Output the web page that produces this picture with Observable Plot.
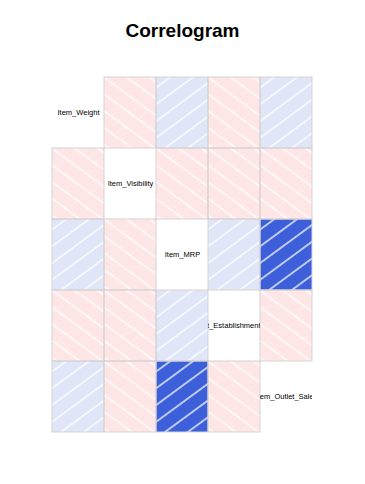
<!DOCTYPE html>
<html><head><meta charset="utf-8">
<script src="https://cdn.jsdelivr.net/npm/d3@7"></script>
<script src="https://cdn.jsdelivr.net/npm/@observablehq/plot@0.6"></script>
<style>
body{margin:0;background:#fff;width:365px;height:484px;overflow:hidden;font-family:"Liberation Sans",Arial,sans-serif;}
#title{height:48px;position:relative;}
#title span{position:absolute;left:0;right:0;top:21px;text-align:center;font-size:19px;line-height:19px;font-weight:bold;color:#000;}
#chart svg{display:block;}
</style></head><body>
<div id="title"><span>Correlogram</span></div>
<div id="chart"></div>
<script>
const variables = ["Item_Weight", "Item_Visibility", "Item_MRP", "Outlet_Establishment_Year", "Item_Outlet_Sales"];
const corrWeight     = [1, -0.014, 0.027, -0.012, 0.014];
const corrVisibility = [-0.014, 1, -0.001, -0.075, -0.129];
const corrMRP        = [0.027, -0.001, 1, 0.005, 0.568];
const corrYear       = [-0.012, -0.075, 0.005, 1, -0.049];
const corrSales      = [0.014, -0.129, 0.568, -0.049, 1];
const colorBreaks = [-0.3, 0, 0.3];
const colorShades = ["#f4a29a", "#ffe6e6", "#e0e6f8", "#3d60da"];

const matrix = [corrWeight, corrVisibility, corrMRP, corrYear, corrSales];
const pairs = [];
variables.forEach((row, i) => variables.forEach((col, j) => pairs.push({row, col, r: matrix[i][j], diag: i === j})));

const svg = Plot.plot({
  width: 365,
  height: 436,
  marginTop: 28,
  marginBottom: 51,
  marginLeft: 50,
  marginRight: 51,
  style: {background: "white", fontFamily: "'Liberation Sans', Arial, sans-serif"},
  facet: {data: pairs, x: "col", y: "row"},
  fx: {domain: variables, padding: 0, axis: null},
  fy: {domain: variables, padding: 0, axis: null},
  color: {type: "threshold", domain: colorBreaks, range: colorShades},
  marks: [
    Plot.rect(pairs, {filter: d => !d.diag, fill: "r"}),
    Plot.rect(pairs, {filter: d => !d.diag && d.r >= 0, fill: "url(#hatchPos)"}),
    Plot.rect(pairs, {filter: d => !d.diag && d.r < 0, fill: "url(#hatchNeg)"}),
    Plot.rect(pairs, {filter: d => !d.diag, fill: "none", stroke: "#d3d3d3", strokeWidth: 1}),
    Plot.text(pairs, {filter: d => d.diag, text: "row", frameAnchor: "middle", fontSize: 7.5, fill: "#000", clip: true})
  ]
});

const defs = d3.select(svg).insert("defs", ":first-child");
function hatch(id, angle) {
  const s = 13.5;
  const p = defs.append("pattern")
    .attr("id", id)
    .attr("patternUnits", "userSpaceOnUse")
    .attr("width", s).attr("height", s)
    .attr("patternTransform", `rotate(${angle})`);
  p.append("line")
    .attr("x1", -1).attr("x2", s + 1)
    .attr("y1", s / 2).attr("y2", s / 2)
    .attr("stroke", "white").attr("stroke-width", 1.3);
}
hatch("hatchPos", -36.3);
hatch("hatchNeg", 36.3);

document.getElementById("chart").appendChild(svg);
</script>
</body></html>
